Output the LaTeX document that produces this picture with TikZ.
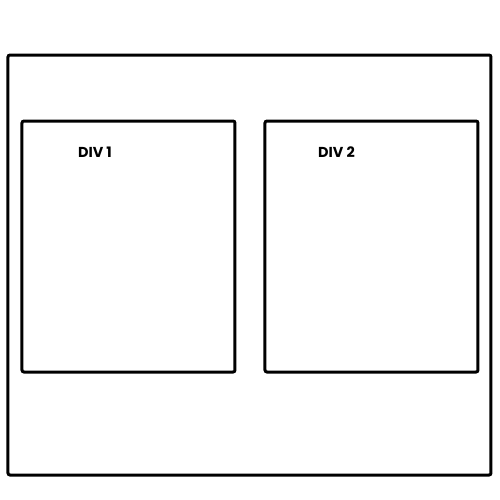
\documentclass[tikz,border=0pt]{standalone}
\usepackage{fontspec}
\setmainfont{Poppins}
\usepackage{tikz}

\begin{document}
\begin{tikzpicture}[x=0.5pt,y=-0.5pt]
			%%%%% START %%%%%
			\useasboundingbox (0, 0) rectangle (500, 500);
			
			\draw[line width=1.5pt, rounded corners=1pt] (8, 55) rectangle (491, 475);
			
			\draw[line width=1.5pt, rounded corners=1pt] (22, 121) rectangle (235, 372);
			\node[font=\fontsize{7.2}{8}\selectfont\bfseries] (div1) at (95, 152.5) {DIV 1};
			
			\draw[line width=1.5pt, rounded corners=1pt] (265, 121) rectangle (478, 372);
			\node[font=\fontsize{7.2}{8}\selectfont\bfseries] (div2) at (336.5, 152.5) {DIV 2};
			%%%%% END %%%%%
		\end{tikzpicture}
\end{document}
